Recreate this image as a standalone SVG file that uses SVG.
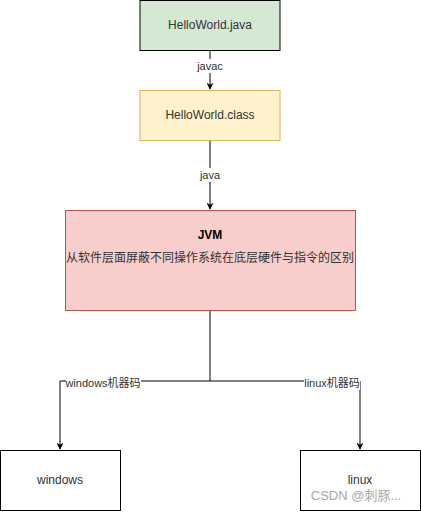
<svg xmlns="http://www.w3.org/2000/svg" width="421" height="512" viewBox="0 0 421 512">
<defs>
<marker id="arr" viewBox="0 0 10 10" refX="9" refY="5" markerWidth="7" markerHeight="7" orient="auto" markerUnits="userSpaceOnUse">
<path d="M0,0 L10,5 L0,10 L3,5 Z" fill="#000"/>
</marker>
</defs>
<style>
text{font-family:"Liberation Sans","Noto Sans CJK SC",sans-serif;fill:#333;text-anchor:middle;dominant-baseline:central}
.n{font-size:12px}
.l{font-size:11px}
.c{fill:none;stroke:#000;stroke-width:1}
.bg{fill:#fff}
</style>
<rect width="421" height="512" fill="#fff"/>
<g id="connectors">
<line class="c" x1="210" y1="50" x2="210" y2="89" marker-end="url(#arr)"/>
<line class="c" x1="210" y1="140" x2="210" y2="209" marker-end="url(#arr)"/>
<polyline class="c" points="210,310 210,381 60,381 60,449" marker-end="url(#arr)"/>
<polyline class="c" points="210,381 360,381 360,449" marker-end="url(#arr)"/>
<rect class="bg" x="195" y="59" width="30" height="14"/>
<text class="l" x="210" y="66">javac</text>
<rect class="bg" x="198" y="168" width="24" height="14"/>
<text class="l" x="210" y="175">java</text>
<rect class="bg" x="66" y="376" width="75" height="14"/>
<text class="l" x="103" y="383">windows机器码</text>
<rect class="bg" x="304" y="376" width="56" height="14"/>
<text class="l" x="332" y="383">linux机器码</text>
</g>
<g id="java">
<rect x="140" y="0.5" width="140" height="50" fill="#d5e8d4" stroke="#000"/>
<text class="n" x="210" y="25">HelloWorld.java</text>
</g>
<g id="class">
<rect x="140" y="90.5" width="140" height="50" fill="#fff2cc" stroke="#d6b656"/>
<text class="n" x="210" y="115">HelloWorld.class</text>
</g>
<g id="jvm">
<rect x="65.5" y="210.5" width="290" height="100" fill="#f8cecc" stroke="#b85450"/>
<text class="n" x="210" y="235" font-weight="bold" style="fill:#000">JVM</text>
<text class="n" x="210" y="258">从软件层面屏蔽不同操作系统在底层硬件与指令的区别</text>
</g>
<g id="windows">
<rect x="0.5" y="450.5" width="120" height="60" fill="#fff" stroke="#000"/>
<text class="n" x="60" y="480">windows</text>
</g>
<g id="linux">
<rect x="300.5" y="450.5" width="120" height="60" fill="#fff" stroke="#000"/>
<text class="n" x="360" y="480">linux</text>
</g>
<text x="356" y="495" style="font-size:13px;fill:#aaa">CSDN @刺豚...</text>
</svg>
